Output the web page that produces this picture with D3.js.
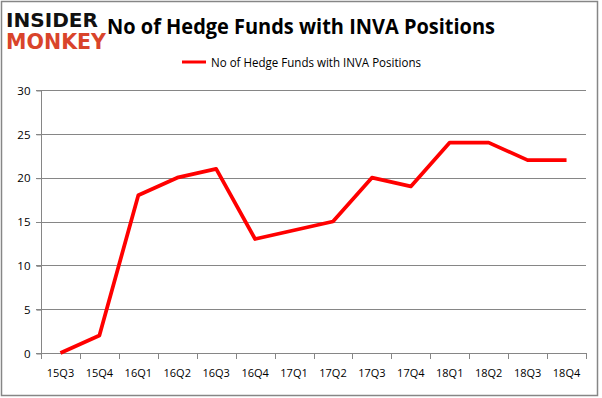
<!DOCTYPE html>
<html>
<head>
<meta charset="utf-8">
<script src="https://cdn.jsdelivr.net/npm/d3@7"></script>
<style>
  body { margin: 0; background: #fff; }
  svg { display: block; font-family: "Open Sans", "Liberation Sans", sans-serif; }
</style>
</head>
<body>
<svg id="chart" width="602" height="398"></svg>
<script>
var quarters = ["15Q3", "15Q4", "16Q1", "16Q2", "16Q3", "16Q4", "17Q1", "17Q2", "17Q3", "17Q4", "18Q1", "18Q2", "18Q3", "18Q4"];
var funds = [0, 2, 18, 20, 21, 13, 14, 15, 20, 19, 24, 24, 22, 22];
var yTicks = [0, 5, 10, 15, 20, 25, 30];
var seriesName = "No of Hedge Funds with INVA Positions";

var svg = d3.select("#chart");
var m = { left: 41, right: 586, top: 90, bottom: 353 };

// outer frame
svg.append("rect")
  .attr("x", 1.5).attr("y", 1.5)
  .attr("width", 596).attr("height", 394)
  .attr("fill", "#fff").attr("stroke", "#868686").attr("stroke-width", 1.5);

var x = d3.scaleBand().domain(quarters).range([m.left, m.right]);
var y = d3.scaleLinear().domain([0, 30]).range([m.bottom, m.top]);

// grid
svg.append("g").selectAll("line").data(yTicks).join("line")
  .attr("x1", m.left - 5).attr("x2", m.right)
  .attr("y1", function(d) { return Math.round(y(d)) + 0.5; })
  .attr("y2", function(d) { return Math.round(y(d)) + 0.5; })
  .attr("stroke", "#868686").attr("stroke-width", 1);

// y axis
var yAxis = svg.append("g")
  .attr("transform", "translate(" + (m.left + 0.5) + ",0.5)")
  .call(d3.axisLeft(y).tickValues(yTicks).tickSize(5).tickPadding(6));
yAxis.select(".domain").attr("stroke", "#868686").attr("d", "M0," + Math.round(m.top) + "V" + m.bottom);
yAxis.selectAll(".tick line").attr("stroke", "#868686");
yAxis.selectAll("text").attr("fill", "#000").style("font-size", "11.5px").style("font-family", "'Open Sans', sans-serif");

// x axis
var xAxis = svg.append("g")
  .attr("transform", "translate(0," + (m.bottom + 0.5) + ")")
  .call(d3.axisBottom(x).tickSize(0).tickPadding(16));
xAxis.select(".domain").attr("stroke", "#868686").attr("d", "M" + m.left + ",0H" + m.right);
xAxis.selectAll("text").attr("fill", "#000").style("font-size", "11px").style("font-family", "'Open Sans', sans-serif");
svg.append("g").selectAll("line").data(quarters.concat(["end"])).join("line")
  .attr("x1", function(d, i) { return Math.round(m.left + i * x.step()) + 0.5; })
  .attr("x2", function(d, i) { return Math.round(m.left + i * x.step()) + 0.5; })
  .attr("y1", m.bottom).attr("y2", m.bottom + 6)
  .attr("stroke", "#868686");

// line
var line = d3.line()
  .x(function(d, i) { return x(quarters[i]) + x.bandwidth() / 2; })
  .y(function(d) { return y(d); });
svg.append("path").datum(funds)
  .attr("d", line)
  .attr("fill", "none").attr("stroke", "#ff0000").attr("stroke-width", 3.75)
  .attr("stroke-linejoin", "round");

// title
svg.append("text")
  .attr("x", 107).attr("y", 34)
  .attr("textLength", 388).attr("lengthAdjust", "spacingAndGlyphs")
  .style("font-size", "21px").style("font-weight", "bold")
  .text(seriesName);

// legend
svg.append("line")
  .attr("x1", 182).attr("x2", 206).attr("y1", 62).attr("y2", 62)
  .attr("stroke", "#ff0000").attr("stroke-width", 3);
svg.append("text")
  .attr("x", 211).attr("y", 66.5)
  .attr("textLength", 210).attr("lengthAdjust", "spacingAndGlyphs")
  .style("font-size", "12px")
  .text(seriesName);

// logo
svg.append("text")
  .attr("x", 6).attr("y", 27)
  .attr("textLength", 92).attr("lengthAdjust", "spacingAndGlyphs")
  .style("font-size", "20px").style("font-weight", "900").style("font-family", "'DejaVu Sans', sans-serif")
  .attr("fill", "#111")
  .text("INSIDER");
svg.append("text")
  .attr("x", 6).attr("y", 49)
  .attr("textLength", 100).attr("lengthAdjust", "spacingAndGlyphs")
  .style("font-size", "21px").style("font-weight", "900").style("font-family", "'DejaVu Sans', sans-serif")
  .attr("fill", "#d9442b")
  .text("MONKEY");
</script>
</body>
</html>
